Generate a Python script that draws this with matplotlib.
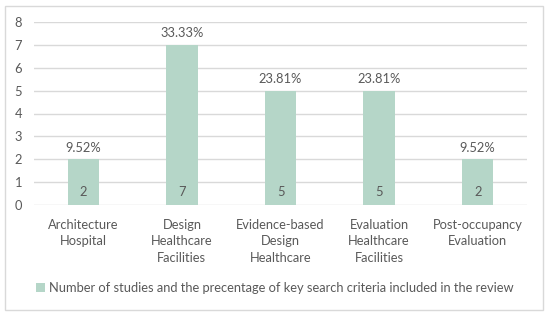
import matplotlib.pyplot as plt
from matplotlib.patches import FancyBboxPatch

categories = ["Architecture\nHospital", "Design\nHealthcare\nFacilities",
              "Evidence-based\nDesign\nHealthcare", "Evaluation\nHealthcare\nFacilities",
              "Post-occupancy\nEvaluation"]
counts = [2, 7, 5, 5, 2]
percents = ["9.52%", "33.33%", "23.81%", "23.81%", "9.52%"]
legend_label = "Number of studies and the precentage of key search criteria included in the review"

plt.rcParams['font.family'] = ['Lato', 'DejaVu Sans']
txt = '#595959'
bar_color = '#b5d6c8'
fs = 9.3

fig = plt.figure(figsize=(5.5, 3.16), dpi=100)
ax = fig.add_axes([34 / 550, 1 - 205 / 316, (527 - 34) / 550, (205 - 22) / 316])

x = list(range(len(categories)))
bars = ax.bar(x, counts, width=0.32, color=bar_color, label=legend_label, zorder=2)

for xi, c, p in zip(x, counts, percents):
    ax.annotate(p, (xi, c), xytext=(0, 4), textcoords='offset points',
                ha='center', va='bottom', fontsize=fs, color=txt)
    ax.text(xi, 0.55, str(c), ha='center', va='center', fontsize=fs, color=txt)

ax.set_xlim(-0.5, len(categories) - 0.5)
ax.set_ylim(0, 8)
ax.set_yticks(range(0, 9))
ax.set_xticks(x)
ax.set_xticklabels(categories, fontsize=fs, color=txt, linespacing=1.45)
ax.tick_params(axis='y', labelsize=fs, labelcolor=txt, length=0, pad=14)
ax.tick_params(axis='x', length=0, pad=10)
ax.yaxis.grid(True, color='#d9d9d9', linewidth=1, zorder=0)
ax.set_axisbelow(True)
for s in ax.spines.values():
    s.set_visible(False)
for lbl in ax.get_yticklabels():
    lbl.set_horizontalalignment('left')

leg = fig.legend(handles=[bars], labels=[legend_label], loc='center',
                 bbox_to_anchor=(0.5, 1 - 288 / 316), frameon=False,
                 fontsize=fs, handlelength=0.7, handleheight=0.7, handletextpad=0.3)
for t in leg.get_texts():
    t.set_color(txt)

border = FancyBboxPatch((5 / 550, 6 / 316), 538 / 550, 304 / 316,
                        boxstyle='square,pad=0', transform=fig.transFigure,
                        fill=False, edgecolor='#d9d9d9', linewidth=1)
fig.patches.append(border)

fig.savefig('out.png', dpi=100)
